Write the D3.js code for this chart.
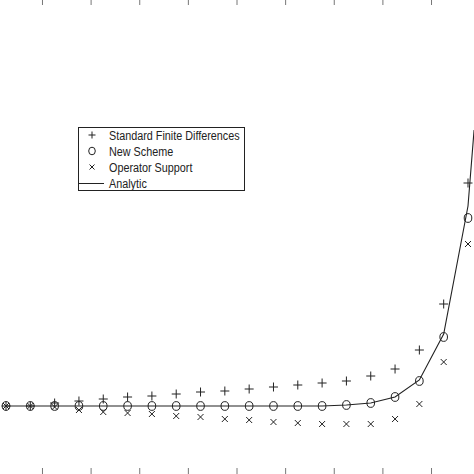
<!DOCTYPE html>
<html>
<head>
<meta charset="utf-8">
<script src="https://cdn.jsdelivr.net/npm/d3@7"></script>
<style>
  body { margin: 0; background: #fff; }
  text { font-family: "Liberation Sans Narrow", "Liberation Sans", Arial, sans-serif; }
</style>
</head>
<body>
<svg id="chart" width="474" height="474"></svg>
<script>
// grid index of each sample
const steps = d3.range(20);
const standardFD = [0, 0, 0.03, 0.05, 0.07, 0.09, 0.10, 0.12, 0.14, 0.15, 0.17, 0.19, 0.21, 0.23, 0.25, 0.30, 0.37, 0.56, 1.02, 2.23];
const newScheme  = [0, 0, 0, 0, 0, 0, 0, 0, 0, 0, 0, 0, 0, 0, 0.01, 0.03, 0.09, 0.25, 0.69, 1.88];
const opSupport  = [0, 0, -0.01, -0.04, -0.06, -0.07, -0.08, -0.10, -0.11, -0.13, -0.14, -0.16, -0.17, -0.18, -0.18, -0.18, -0.13, 0.02, 0.44, 1.62];
const analyticX  = [0, 1, 2, 3, 4, 5, 6, 7, 8, 9, 10, 11, 12, 13, 14, 15, 16, 17, 18, 19, 19.25];
const analyticY  = [0, 0, 0, 0, 0, 0, 0, 0, 0, 0, 0, 0, 0, 0, 0.01, 0.03, 0.09, 0.26, 0.72, 2.0, 2.76];
const tickSteps  = d3.range(1.5, 18, 2);

const svg = d3.select("#chart");
const x = d3.scaleLinear().domain([0, 19]).range([6, 468]);
const y = d3.scaleLinear().domain([0, 1]).range([406, 306]);

svg.append("defs").append("clipPath").attr("id", "clip")
  .append("rect").attr("width", 474).attr("height", 474);

// top and bottom ticks
[[0, 5], [468, 474]].forEach(([y1, y2]) => {
  svg.append("g").selectAll("line").data(tickSteps).join("line")
    .attr("x1", d => x(d)).attr("x2", d => x(d))
    .attr("y1", y1).attr("y2", y2)
    .attr("stroke", "#777").attr("stroke-width", 1);
});

const g = svg.append("g").attr("clip-path", "url(#clip)");

g.append("path")
  .datum(analyticX.map((d, i) => [d, analyticY[i]]))
  .attr("d", d3.line().x(d => x(d[0])).y(d => y(d[1])))
  .attr("fill", "none").attr("stroke", "#222").attr("stroke-width", 1.1);

function plus(sel, cx, cy, r) {
  sel.append("path").attr("d", `M${cx - r},${cy}H${cx + r}M${cx},${cy - r}V${cy + r}`)
    .attr("stroke", "#222").attr("stroke-width", 1).attr("fill", "none");
}
function cross(sel, cx, cy, r) {
  sel.append("path").attr("d", `M${cx - r},${cy - r}L${cx + r},${cy + r}M${cx - r},${cy + r}L${cx + r},${cy - r}`)
    .attr("stroke", "#222").attr("stroke-width", 1).attr("fill", "none");
}
function ring(sel, cx, cy, r) {
  sel.append("ellipse").attr("cx", cx).attr("cy", cy).attr("rx", r).attr("ry", r * 1.15)
    .attr("stroke", "#222").attr("stroke-width", 1).attr("fill", "none");
}

steps.forEach(i => {
  plus(g, x(i), y(standardFD[i]), 4.5);
  ring(g, x(i), y(newScheme[i]), 3.8);
  cross(g, x(i), y(opSupport[i]), 3);
});

// legend
const lg = svg.append("g");
lg.append("rect").attr("x", 78.5).attr("y", 127.5).attr("width", 166).attr("height", 63)
  .attr("fill", "#fff").attr("stroke", "#222").attr("stroke-width", 1);
const labels = ["Standard Finite Differences", "New Scheme", "Operator Support", "Analytic"];
const rowY = [140, 156, 172, 188];
labels.forEach((t, i) => {
  lg.append("text").attr("x", 0).attr("y", 0).attr("font-size", 13.5)
    .attr("transform", `translate(109,${rowY[i]}) scale(0.8,1)`)
    .attr("fill", "#222").text(t);
});
plus(lg, 92, 135, 3.5);
ring(lg, 92, 151, 3.3);
cross(lg, 92, 167, 2.5);
lg.append("line").attr("x1", 79).attr("x2", 104).attr("y1", 183.5).attr("y2", 183.5)
  .attr("stroke", "#222").attr("stroke-width", 1);
</script>
</body>
</html>
